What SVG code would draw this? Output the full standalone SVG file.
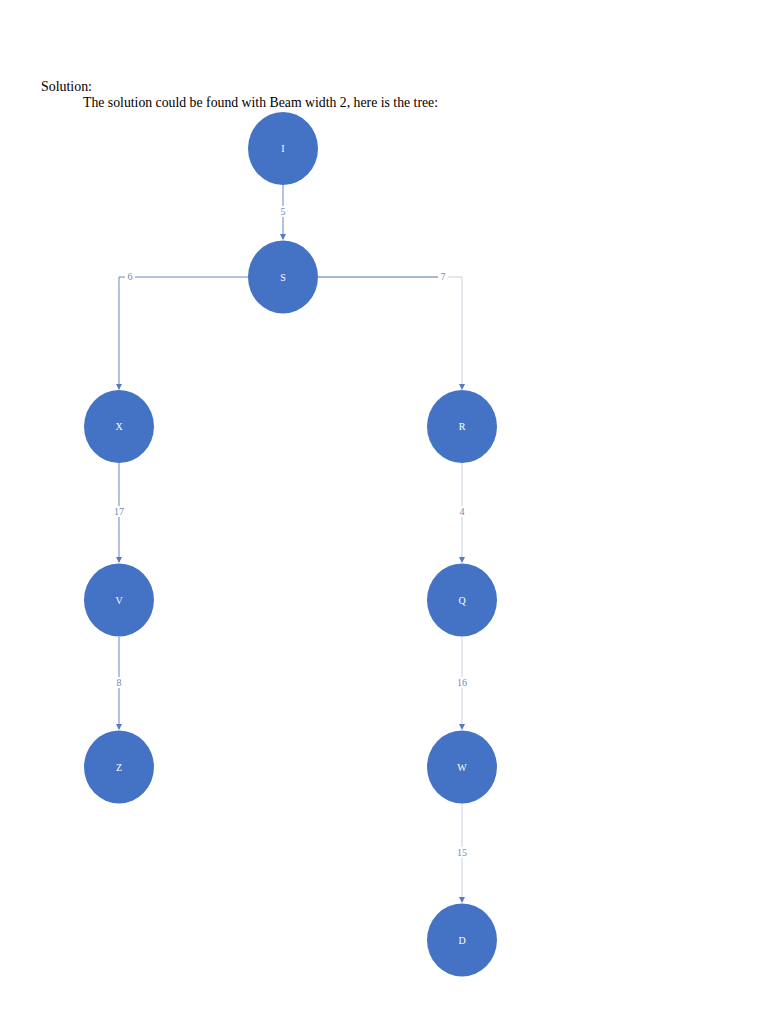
<svg xmlns="http://www.w3.org/2000/svg" width="768" height="1024" viewBox="0 0 768 1024">
<style>
.t{font-family:"Liberation Serif","Times New Roman",serif;font-size:14px;fill:#000}
.n{fill:#4472c4}
.nl{font-family:"Liberation Serif","Times New Roman",serif;font-size:10px;fill:#fff;text-anchor:middle}
.e1{fill:none;stroke:#6a86c0;stroke-width:1}
.e2{fill:none;stroke:#c9d1e0;stroke-width:1}
.el{font-family:"Liberation Serif","Times New Roman",serif;font-size:10px;fill:#6f87bf;text-anchor:middle}
.bg{fill:#fff}
</style>
<defs>
<marker id="a1" markerWidth="6" markerHeight="6" refX="5" refY="3" orient="auto" markerUnits="userSpaceOnUse">
<path d="M0,0 L6,3 L0,6 Z" fill="#5b79bd"/>
</marker>
<marker id="a2" markerWidth="6" markerHeight="6" refX="5" refY="3" orient="auto" markerUnits="userSpaceOnUse">
<path d="M0,0 L6,3 L0,6 Z" fill="#5b79bd"/>
</marker>
</defs>
<rect width="768" height="1024" fill="#fff"/>
<text class="t" x="41" y="91" textLength="51" lengthAdjust="spacingAndGlyphs">Solution:</text>
<text class="t" x="83" y="107" textLength="355" lengthAdjust="spacingAndGlyphs">The solution could be found with Beam width 2, here is the tree:</text>
<g id="connectors">
<path class="e1" d="M283,185 V239" marker-end="url(#a1)"/>
<rect class="bg" x="278" y="206" width="10" height="11"/>
<text class="el" x="283" y="215">5</text>
<path class="e1" d="M248,277 H119 V389" marker-end="url(#a1)"/>
<rect class="bg" x="125" y="271" width="10" height="11"/>
<text class="el" x="130" y="280">6</text>
<path class="e2" d="M318,277 H462 V389" marker-end="url(#a2)"/>
<path class="e1" d="M318,277 H440"/>
<rect class="bg" x="438" y="271" width="10" height="11"/>
<text class="el" x="443" y="280">7</text>
<path class="e1" d="M119,463 V562" marker-end="url(#a1)"/>
<rect class="bg" x="112" y="506" width="14" height="11"/>
<text class="el" x="119" y="515">17</text>
<path class="e1" d="M119,637 V729" marker-end="url(#a1)"/>
<rect class="bg" x="114" y="677" width="10" height="11"/>
<text class="el" x="119" y="686">8</text>
<path class="e2" d="M462,463 V562" marker-end="url(#a2)"/>
<rect class="bg" x="457" y="506" width="10" height="11"/>
<text class="el" x="462" y="515">4</text>
<path class="e2" d="M462,637 V729" marker-end="url(#a2)"/>
<rect class="bg" x="455" y="677" width="14" height="11"/>
<text class="el" x="462" y="686">16</text>
<path class="e2" d="M462,803 V902" marker-end="url(#a2)"/>
<rect class="bg" x="455" y="847" width="14" height="11"/>
<text class="el" x="462" y="856">15</text>
</g>
<g id="node-I"><ellipse class="n" cx="283" cy="148.5" rx="35" ry="36.5"/><text class="nl" x="283" y="152">I</text></g>
<g id="node-S"><ellipse class="n" cx="283" cy="277" rx="35" ry="36.5"/><text class="nl" x="283" y="280.5">S</text></g>
<g id="node-X"><ellipse class="n" cx="119" cy="426.5" rx="35" ry="36.5"/><text class="nl" x="119" y="430">X</text></g>
<g id="node-R"><ellipse class="n" cx="462" cy="426.5" rx="35" ry="36.5"/><text class="nl" x="462" y="430">R</text></g>
<g id="node-V"><ellipse class="n" cx="119" cy="600" rx="35" ry="36.5"/><text class="nl" x="119" y="603.5">V</text></g>
<g id="node-Q"><ellipse class="n" cx="462" cy="600" rx="35" ry="36.5"/><text class="nl" x="462" y="603.5">Q</text></g>
<g id="node-Z"><ellipse class="n" cx="119" cy="767" rx="35" ry="36.5"/><text class="nl" x="119" y="770.5">Z</text></g>
<g id="node-W"><ellipse class="n" cx="462" cy="767" rx="35" ry="36.5"/><text class="nl" x="462" y="770.5">W</text></g>
<g id="node-D"><ellipse class="n" cx="462" cy="940" rx="35" ry="36.5"/><text class="nl" x="462" y="943.5">D</text></g>
</svg>
